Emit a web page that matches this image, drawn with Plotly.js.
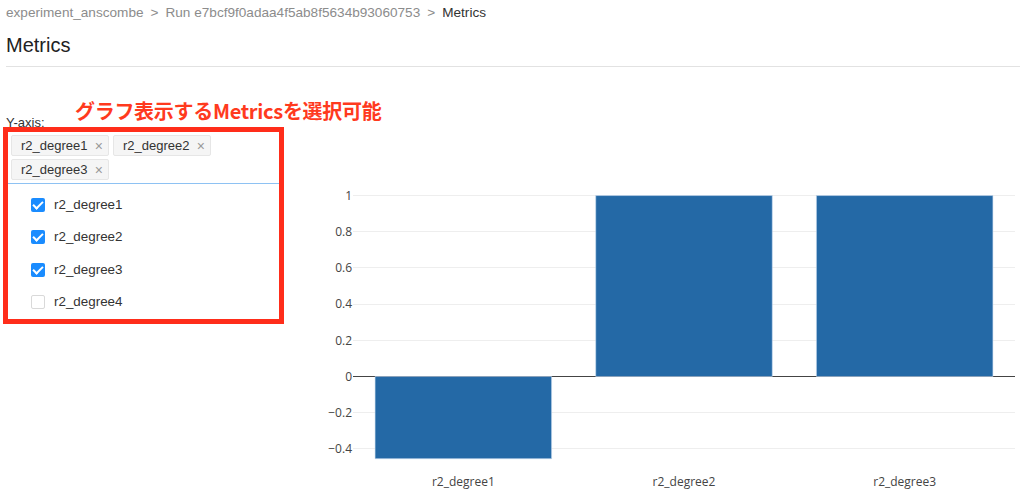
<!DOCTYPE html>
<html>
<head>
<meta charset="utf-8">
<script src="https://cdn.plot.ly/plotly-3.0.1.min.js"></script>
<style>
  body { margin: 0; width: 1020px; height: 495px; overflow: hidden; background: #fff;
         font-family: "Liberation Sans", "Noto Sans CJK JP", sans-serif; color: #333; position: relative; }
  .crumb { position: absolute; left: 6px; top: 5px; font-size: 13.6px; color: #8c8c8c; white-space: nowrap; }
  .crumb .sep { margin: 0 7px; }
  .crumb .last { color: #333; }
  .title { position: absolute; left: 6px; top: 34px; font-size: 20px; color: #222; }
  .hr { position: absolute; left: 6px; right: 0; top: 66px; border-top: 1px solid #e2e2e2; }
  .yaxis-label { position: absolute; left: 6px; top: 115px; font-size: 13px; color: #333; }
  .note { position: absolute; left: 75px; top: 96px; font-size: 20px; font-weight: bold; color: #ff3a1e;
          font-family: "Noto Sans CJK JP", sans-serif; white-space: nowrap; letter-spacing: -0.3px; }
  .select { position: absolute; left: 7px; top: 132px; width: 274px; height: 51px; background: #fff;
            border-bottom: 1px solid #8ec2f3; }
  .tag { position: absolute; height: 21px; line-height: 20px; background: #f5f5f5; border: 1px solid #e6e6e6;
         border-radius: 2px; font-size: 13px; color: #333; padding-left: 9px; box-sizing: border-box; }
  .tag .x { color: #999; font-size: 14px; position: absolute; right: 5px; top: 0; }
  .opt { position: absolute; left: 31px; font-size: 13.4px; color: #333; height: 16px; }
  .cb { position: absolute; left: 0; top: 0; width: 14px; height: 14px; border-radius: 2px; box-sizing: border-box; }
  .cb.on { background: #1a8cff; }
  .cb.on::after { content: ""; position: absolute; left: 4px; top: 1px; width: 4px; height: 8px;
                  border: solid #fff; border-width: 0 2px 2px 0; transform: rotate(45deg); }
  .cb.off { border: 1px solid #d9d9d9; background: #fff; }
  .opt span { position: absolute; left: 23px; top: -1px; white-space: nowrap; }
  .redbox { position: absolute; left: 3px; top: 127px; width: 281px; height: 197px; box-sizing: border-box;
            border: 5px solid #ff2d1a; }
  #chart { position: absolute; left: 300px; top: 150px; width: 720px; height: 345px; }
</style>
</head>
<body>
<div class="crumb">experiment_anscombe<span class="sep">&gt;</span>Run e7bcf9f0adaa4f5ab8f5634b93060753<span class="sep">&gt;</span><span class="last">Metrics</span></div>
<div class="title">Metrics</div>
<div class="hr"></div>
<div class="yaxis-label">Y-axis:</div>
<div class="note">グラフ表示するMetricsを選択可能</div>
<div class="select" id="select"></div>
<div id="options"></div>
<div class="redbox"></div>
<div id="chart"></div>
<script>
const metricNames = ["r2_degree1", "r2_degree2", "r2_degree3", "r2_degree4"];
const selectedMetrics = ["r2_degree1", "r2_degree2", "r2_degree3"];
const metricValues = [-0.454, 1.0, 1.0];

// selected tags in the select box
const select = document.getElementById("select");
const tagPos = [[4, 3], [106, 3], [4, 27]];
selectedMetrics.forEach((name, i) => {
  const t = document.createElement("div");
  t.className = "tag";
  t.style.left = tagPos[i][0] + "px";
  t.style.top = tagPos[i][1] + "px";
  t.style.width = "98px";
  t.innerHTML = name + '<span class="x">×</span>';
  select.appendChild(t);
});

// dropdown options with checkboxes
const options = document.getElementById("options");
metricNames.forEach((name, i) => {
  const o = document.createElement("div");
  o.className = "opt";
  o.style.top = (198 + i * 32.3) + "px";
  const on = selectedMetrics.includes(name);
  o.innerHTML = '<div class="cb ' + (on ? "on" : "off") + '"></div><span>' + name + '</span>';
  options.appendChild(o);
});

const trace = {
  type: "bar",
  x: selectedMetrics,
  y: metricValues,
  marker: { color: "#2469a6", line: { color: "#c9dcf0", width: 0.6 } },
  hoverinfo: "x+y"
};

const layout = {
  width: 720,
  height: 345,
  margin: { l: 53, r: 5, t: 32, b: 22 },
  paper_bgcolor: "#fff",
  plot_bgcolor: "#fff",
  font: { family: "Open Sans, Verdana, sans-serif", size: 12, color: "#444" },
  bargap: 0.2,
  showlegend: false,
  xaxis: { type: "category", showgrid: false, zeroline: false, tickfont: { size: 12 } },
  yaxis: {
    range: [-0.533, 1.075],
    dtick: 0.2,
    tick0: 0,
    gridcolor: "#eee",
    zeroline: true,
    zerolinecolor: "#444",
    zerolinewidth: 1
  }
};

Plotly.newPlot("chart", [trace], layout, { displayModeBar: false, staticPlot: true });
</script>
</body>
</html>
